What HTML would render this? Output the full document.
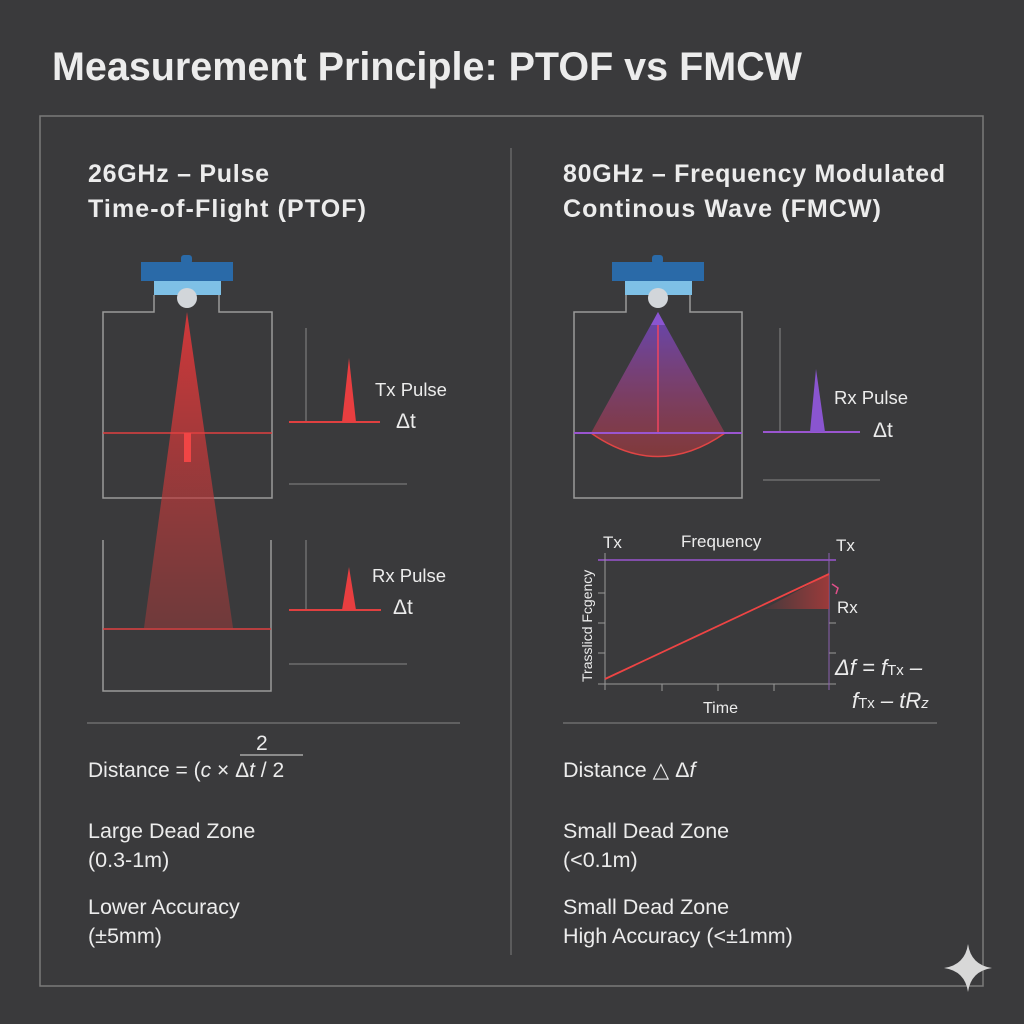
<!DOCTYPE html>
<html><head><meta charset="utf-8"><style>
html,body{margin:0;padding:0;background:#3a3a3c}
svg{display:block}
text{font-family:"Liberation Sans",sans-serif;fill:#ececec}
</style></head><body>
<svg width="1024" height="1024" viewBox="0 0 1024 1024" xmlns="http://www.w3.org/2000/svg">
<defs>
<linearGradient id="rb" x1="0" y1="0" x2="0" y2="1">
<stop offset="0" stop-color="#d8383a" stop-opacity="0.95"/>
<stop offset="1" stop-color="#b03a3a" stop-opacity="0.45"/>
</linearGradient>
<linearGradient id="pb" x1="0" y1="0" x2="0" y2="1">
<stop offset="0" stop-color="#6a48c0" stop-opacity="0.9"/>
<stop offset="1" stop-color="#b03a3a" stop-opacity="0.6"/>
</linearGradient>
<linearGradient id="rs" x1="1" y1="0" x2="0" y2="0">
<stop offset="0" stop-color="#b33a3a" stop-opacity="0.8"/>
<stop offset="1" stop-color="#b33a3a" stop-opacity="0.1"/>
</linearGradient>
</defs>
<rect width="1024" height="1024" fill="#3a3a3c"/>
<text x="52" y="80" font-size="39.5" font-weight="bold" fill="#fff">Measurement Principle: PTOF vs FMCW</text>
<rect x="40" y="116" width="943" height="870" fill="none" stroke="#7a7a7a" stroke-width="1.5"/>
<line x1="511" y1="148" x2="511" y2="955" stroke="#666" stroke-width="1.5"/>

<text x="88" y="182" font-size="25" font-weight="bold" textLength="181">26GHz – Pulse</text>
<text x="88" y="217" font-size="25" font-weight="bold" textLength="278">Time-of-Flight (PTOF)</text>
<text x="563" y="182" font-size="25" font-weight="bold" textLength="382">80GHz – Frequency Modulated</text>
<text x="563" y="217" font-size="25" font-weight="bold" textLength="318">Continous Wave (FMCW)</text>

<path d="M154,295 V312 H103 V498 H272 V312 H219 V295" fill="none" stroke="#9a9a9a" stroke-width="1.5"/>
<polygon points="187,312 144,628 233,628" fill="url(#rb)"/>
<rect x="141" y="262" width="92" height="19" fill="#2a6aa8"/>
<rect x="181" y="255" width="11" height="9" rx="3" fill="#2a6aa8"/>
<rect x="154" y="281" width="67" height="14" fill="#7ec0e6"/>
<circle cx="187" cy="298" r="10" fill="#d2d6da"/>
<line x1="103" y1="433" x2="272" y2="433" stroke="#e04040" stroke-width="1.5"/>
<rect x="184" y="433" width="7" height="29" fill="#f04545"/>
<path d="M103,540 V691 H271 V540" fill="none" stroke="#9a9a9a" stroke-width="1.5"/>
<line x1="103" y1="629" x2="271" y2="629" stroke="#e04040" stroke-width="1.5"/>

<line x1="306" y1="328" x2="306" y2="422" stroke="#888" stroke-width="1"/>
<line x1="289" y1="422" x2="380" y2="422" stroke="#e04040" stroke-width="2"/>
<polygon points="342,422 349,358 356,422" fill="#e83e40"/>
<line x1="289" y1="484" x2="407" y2="484" stroke="#777" stroke-width="1.2"/>
<text x="375" y="396" font-size="18.5">Tx Pulse</text>
<text x="396" y="428" font-size="21">Δt</text>
<line x1="306" y1="540" x2="306" y2="610" stroke="#888" stroke-width="1"/>
<line x1="289" y1="610" x2="381" y2="610" stroke="#e04040" stroke-width="2"/>
<polygon points="342,610 349,567 356,610" fill="#e83e40"/>
<line x1="289" y1="664" x2="407" y2="664" stroke="#777" stroke-width="1.2"/>
<text x="372" y="582" font-size="18.5">Rx Pulse</text>
<text x="393" y="614" font-size="21">Δt</text>

<line x1="87" y1="723" x2="460" y2="723" stroke="#777" stroke-width="1.2"/>
<text x="256" y="750" font-size="21">2</text>
<line x1="240" y1="755" x2="303" y2="755" stroke="#ddd" stroke-width="1"/>
<text x="88" y="777" font-size="21">Distance = (<tspan font-style="italic">c</tspan> × Δ<tspan font-style="italic">t</tspan>   /  2</text>
<text x="88" y="838" font-size="21.5">Large Dead Zone</text>
<text x="88" y="867" font-size="21.5">(0.3-1m)</text>
<text x="88" y="914" font-size="21.5">Lower Accuracy</text>
<text x="88" y="943" font-size="21.5">(±5mm)</text>

<path d="M626,295 V312 H574 V498 H742 V312 H690 V295" fill="none" stroke="#9a9a9a" stroke-width="1.5"/>
<path d="M658,312 L591,433 Q658,480 725,433 Z" fill="url(#pb)"/>
<path d="M591,433 Q658,480 725,433" fill="none" stroke="#e04545" stroke-width="1.5"/>
<rect x="612" y="262" width="92" height="19" fill="#2a6aa8"/>
<rect x="652" y="255" width="11" height="9" rx="3" fill="#2a6aa8"/>
<rect x="625" y="281" width="67" height="14" fill="#7ec0e6"/>
<circle cx="658" cy="298" r="10" fill="#d2d6da"/>
<line x1="658" y1="433" x2="658" y2="322" stroke="#f04560" stroke-width="1.5"/>
<polygon points="651,325 658,312 665,325" fill="#8a55d0"/>
<line x1="574" y1="433" x2="742" y2="433" stroke="#9a55d0" stroke-width="2"/>

<line x1="780" y1="328" x2="780" y2="432" stroke="#888" stroke-width="1"/>
<line x1="763" y1="432" x2="860" y2="432" stroke="#9a55d0" stroke-width="2"/>
<polygon points="810,432 816,369 825,432" fill="#8a55d0"/>
<line x1="763" y1="480" x2="880" y2="480" stroke="#777" stroke-width="1.2"/>
<text x="834" y="404" font-size="18.5">Rx Pulse</text>
<text x="873" y="437" font-size="21">Δt</text>

<text x="603" y="548" font-size="17">Tx</text>
<text x="681" y="547" font-size="17">Frequency</text>
<text x="836" y="551" font-size="17">Tx</text>
<line x1="598" y1="560" x2="836" y2="560" stroke="#9a55d0" stroke-width="1.5"/>
<line x1="605" y1="553" x2="605" y2="690" stroke="#999" stroke-width="1"/>
<line x1="598" y1="684" x2="836" y2="684" stroke="#999" stroke-width="1"/>
<line x1="829" y1="553" x2="829" y2="690" stroke="#8a60b0" stroke-width="1"/>
<g stroke="#999" stroke-width="1">
<line x1="598" y1="593" x2="605" y2="593"/><line x1="598" y1="623" x2="605" y2="623"/><line x1="598" y1="653" x2="605" y2="653"/>
<line x1="829" y1="623" x2="836" y2="623"/><line x1="829" y1="653" x2="836" y2="653"/>
<line x1="662" y1="684" x2="662" y2="691"/><line x1="718" y1="684" x2="718" y2="691"/><line x1="774" y1="684" x2="774" y2="691"/>
</g>
<polygon points="764,609 829,574 829,609" fill="url(#rs)"/>
<line x1="605" y1="679" x2="829" y2="574" stroke="#ee4444" stroke-width="1.8"/>
<path d="M832,584 l6,4 l-2,6" fill="none" stroke="#e0508a" stroke-width="1.5"/>
<text x="837" y="613" font-size="17">Rx</text>
<text transform="translate(592,682) rotate(-90)" font-size="14">Trasslicd Fcgency</text>
<text x="703" y="713" font-size="16">Time</text>
<text x="835" y="675" font-size="22" font-style="italic">Δf = f<tspan font-size="15" font-style="normal">Tx</tspan> –</text>
<text x="852" y="708" font-size="22" font-style="italic">f<tspan font-size="15" font-style="normal">Tx</tspan> – tR<tspan font-size="15">z</tspan></text>

<line x1="563" y1="723" x2="937" y2="723" stroke="#777" stroke-width="1.2"/>
<text x="563" y="777" font-size="21.5">Distance △ Δ<tspan font-style="italic">f</tspan></text>
<text x="563" y="838" font-size="21.5">Small Dead Zone</text>
<text x="563" y="867" font-size="21.5">(&lt;0.1m)</text>
<text x="563" y="914" font-size="21.5">Small Dead Zone</text>
<text x="563" y="943" font-size="21.5">High Accuracy (&lt;±1mm)</text>

<path d="M968,944 Q971,965 992,968 Q971,971 968,992 Q965,971 944,968 Q965,965 968,944 Z" fill="#d8d8d8"/>
</svg>
</body></html>
